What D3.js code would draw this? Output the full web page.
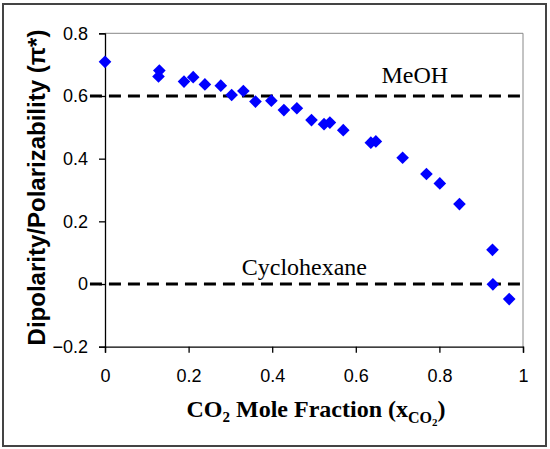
<!DOCTYPE html>
<html>
<head>
<meta charset="utf-8">
<script src="https://cdn.jsdelivr.net/npm/d3@7"></script>
<style>
  body { margin: 0; background: #fff; }
  .tick text { font-family: Arial, "Liberation Sans", sans-serif; font-size: 18px; fill: #000; }
</style>
</head>
<body>
<div id="container"></div>
<script>
'use strict';

//Data
const moleFraction = [0, 0.130, 0.128, 0.189, 0.211, 0.239, 0.277, 0.303, 0.331, 0.360,
    0.398, 0.428, 0.459, 0.494, 0.524, 0.538, 0.570, 0.636, 0.648, 0.712,
    0.769, 0.801, 0.848, 0.927, 0.928, 0.967];
const piStar = [0.709, 0.681, 0.662, 0.646, 0.660, 0.637, 0.633, 0.603, 0.616, 0.582,
    0.585, 0.555, 0.561, 0.523, 0.510, 0.515, 0.491, 0.451, 0.455, 0.403,
    0.351, 0.321, 0.255, 0.109, -0.001, -0.048];
const references = ['MeOH', 'Cyclohexane'];
const referenceValues = [0.6, 0];
const referenceSpan = [-0.036, 1];
const xTicks = [0, 0.2, 0.4, 0.6, 0.8, 1];
const yTicks = [-0.2, 0, 0.2, 0.4, 0.6, 0.8];

//Sizing
const VIZ = {
    WIDTH: 550,
    HEIGHT: 449,
    MARGIN: { LEFT: 105, TOP: 33.3, RIGHT: 27, BOTTOM: 102.3 }
};
const width = VIZ.WIDTH - VIZ.MARGIN.LEFT - VIZ.MARGIN.RIGHT;
const height = VIZ.HEIGHT - VIZ.MARGIN.TOP - VIZ.MARGIN.BOTTOM;

const svg = d3.select('#container')
    .append('svg')
    .attr('width', VIZ.WIDTH)
    .attr('height', VIZ.HEIGHT);

//Outer frame
svg.append('rect')
    .attr('x', 3).attr('y', 4)
    .attr('width', 543).attr('height', 442)
    .attr('fill', 'none')
    .attr('stroke', '#444')
    .attr('stroke-width', 2);

const vis = svg.append('g')
    .attr('transform', `translate(${VIZ.MARGIN.LEFT} ${VIZ.MARGIN.TOP})`);

//Scales
const x = d3.scaleLinear().domain([0, 1]).range([0, width]);
const y = d3.scaleLinear().domain([-0.2, 0.8]).range([height, 0]);

//Top and right plot border
vis.append('path')
    .attr('d', `M0,0H${width}V${height}`)
    .attr('fill', 'none')
    .attr('stroke', '#888')
    .attr('stroke-width', 1);

//Axes
const xAxis = vis.append('g')
    .attr('transform', `translate(0 ${height})`)
    .call(d3.axisBottom(x).tickValues(xTicks).tickSize(6).tickPadding(17)
        .tickFormat(d => d3.format('')(d)));
const yAxis = vis.append('g')
    .call(d3.axisLeft(y).tickValues(yTicks).tickSize(6).tickPadding(11)
        .tickFormat(d => d3.format('')(Math.round(d * 10) / 10)));
[xAxis, yAxis].forEach(axis => {
    axis.select('.domain').attr('stroke', '#000').attr('stroke-width', 1.3);
    axis.selectAll('.tick line').attr('stroke', '#000').attr('stroke-width', 1.3);
});

//Reference solvent lines
const line = d3.line().x(d => x(d[0])).y(d => y(d[1]));
referenceValues.forEach(value => {
    vis.append('path')
        .attr('d', line(referenceSpan.map(s => [s, value])))
        .attr('fill', 'none')
        .attr('stroke', '#000')
        .attr('stroke-width', 3)
        .attr('stroke-dasharray', '12,7');
});

//Reference labels
const labelPos = [[0.741, 0.6 + 0.041], [0.477, 0 + 0.03]];
references.forEach((name, i) => {
    vis.append('text')
        .attr('x', x(labelPos[i][0]))
        .attr('y', y(labelPos[i][1]))
        .attr('text-anchor', 'middle')
        .attr('font-family', '"Times New Roman", "Liberation Serif", serif')
        .attr('font-size', 24)
        .text(name);
});

//Points
const points = moleFraction.map((v, i) => ({ x: v, y: piStar[i] }));
vis.selectAll('path.point')
    .data(points)
    .enter().append('path')
    .attr('class', 'point')
    .attr('d', d3.symbol(d3.symbolSquare, 80))
    .attr('transform', d => `translate(${x(d.x)} ${y(d.y)}) rotate(45)`)
    .attr('fill', '#0000ff');

//Axis titles
const xTitle = svg.append('text')
    .attr('x', 316)
    .attr('y', 417)
    .attr('text-anchor', 'middle')
    .attr('font-family', '"Times New Roman", "Liberation Serif", serif')
    .attr('font-weight', 'bold')
    .attr('font-size', 24);
xTitle.append('tspan').text('CO');
xTitle.append('tspan').attr('font-size', 15).attr('dy', 5).text('2');
xTitle.append('tspan').attr('dy', -5).text(' Mole Fraction (x');
xTitle.append('tspan').attr('font-size', 16).attr('dy', 6).text('CO');
xTitle.append('tspan').attr('font-size', 11).attr('dy', 3).text('2');
xTitle.append('tspan').attr('dy', -9).text(')');

svg.append('text')
    .attr('transform', 'translate(45 187.5) rotate(-90)')
    .attr('text-anchor', 'middle')
    .attr('font-family', 'Arial, "Liberation Sans", sans-serif')
    .attr('font-weight', 'bold')
    .attr('font-size', 24)
    .text('Dipolarity/Polarizability (π*)');
</script>
</body>
</html>
